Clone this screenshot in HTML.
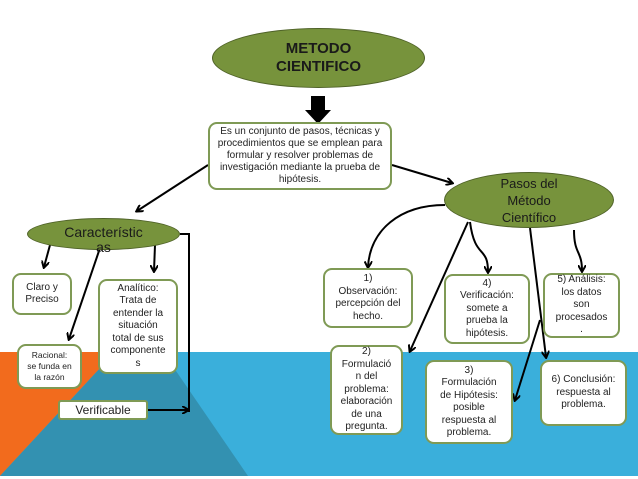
<!DOCTYPE html>
<html><head><meta charset="utf-8"><style>
body{margin:0;width:638px;height:479px;overflow:hidden;background:#fff;font-family:"Liberation Sans",sans-serif;}
.b{position:absolute;border:2px solid #7f9a55;border-radius:9px;background:#fff;box-sizing:border-box;text-align:center;font-size:10px;line-height:12.5px;color:#222;display:flex;align-items:center;justify-content:center;}
.e{position:absolute;background:#77933c;border:1.5px solid #4f6228;border-radius:50%;box-sizing:border-box;text-align:center;color:#1a1a1a;display:flex;align-items:center;justify-content:center;}
</style></head><body>
<svg width="638" height="479" style="position:absolute;left:0;top:0">
<defs><marker id="a" markerWidth="8" markerHeight="8" refX="6" refY="4" orient="auto" markerUnits="userSpaceOnUse"><path d="M0,0 L7,4 L0,8" fill="none" stroke="#000" stroke-width="2"/></marker></defs>
<rect x="0" y="352" width="638" height="124" fill="#3aafdb"/>
<polygon points="0,352 115,352 0,476" fill="#f26b1d"/>
<polygon points="115,352 163,352 248,476 0,476" fill="#3391b1"/>
<polygon points="311,96 325,96 325,110 331,110 318,124 305,110 311,110" fill="#000"/>
<g stroke="#000" stroke-width="2" fill="none" marker-end="url(#a)">
<line x1="208" y1="165" x2="137" y2="211"/>
<line x1="392" y1="165" x2="452" y2="183"/>
<line x1="50" y1="245" x2="44" y2="267"/>
<line x1="155" y1="245" x2="154" y2="271"/>
<line x1="100" y1="248" x2="69" y2="339"/>
<line x1="148" y1="410" x2="188" y2="410"/>
<path d="M445,205 C400,205 370,230 368,267"/>
<line x1="468" y1="222" x2="410" y2="351"/>
<path d="M470,222 C475,260 488,245 488,272"/>
<line x1="530" y1="228" x2="546" y2="357"/>
<line x1="540" y1="320" x2="515" y2="400"/>
<path d="M574,230 C574,255 582,250 582,271"/>
</g>
<polyline points="180,234 189,234 189,412" stroke="#000" stroke-width="2" fill="none"/>
</svg>
<div class="e" style="left:212px;top:28px;width:213px;height:60px;font-weight:bold;font-size:15px;line-height:18px;">METODO<br>CIENTIFICO</div>
<div class="b" style="left:208px;top:122px;width:184px;height:68px;font-size:10px;line-height:12px;">Es un conjunto de pasos, técnicas y procedimientos que se emplean para formular y resolver problemas de investigación mediante la prueba de hipótesis.</div>
<div class="e" style="left:444px;top:172px;width:170px;height:56px;font-size:13px;line-height:17px;">Pasos del<br>Método<br>Científico</div>
<div class="e" style="left:27px;top:218px;width:153px;height:32px;font-size:14px;line-height:15px;overflow:visible;"><span style="position:relative;top:6px">Característic<br>as</span></div>
<div class="b" style="left:12px;top:273px;width:60px;height:42px;">Claro y<br>Preciso</div>
<div class="b" style="left:98px;top:279px;width:80px;height:95px;">Analítico:<br>Trata de<br>entender la<br>situación<br>total de sus<br>componente<br>s</div>
<div class="b" style="left:17px;top:344px;width:65px;height:45px;font-size:8.5px;line-height:11px;">Racional:<br>se funda en<br>la razón</div>
<div class="b" style="left:58px;top:400px;width:90px;height:20px;font-size:12px;border-radius:3px;">Verificable</div>
<div class="b" style="left:323px;top:268px;width:90px;height:60px;">1)<br>Observación:<br>percepción del<br>hecho.</div>
<div class="b" style="left:444px;top:274px;width:86px;height:70px;">4)<br>Verificación:<br>somete a<br>prueba la<br>hipótesis.</div>
<div class="b" style="left:543px;top:273px;width:77px;height:65px;">5) Análisis:<br>los datos<br>son<br>procesados<br>.</div>
<div class="b" style="left:330px;top:345px;width:73px;height:90px;">2)<br>Formulació<br>n del<br>problema:<br>elaboración<br>de una<br>pregunta.</div>
<div class="b" style="left:425px;top:360px;width:88px;height:84px;">3)<br>Formulación<br>de Hipótesis:<br>posible<br>respuesta al<br>problema.</div>
<div class="b" style="left:540px;top:360px;width:87px;height:66px;">6) Conclusión:<br>respuesta al<br>problema.</div>
</body></html>
